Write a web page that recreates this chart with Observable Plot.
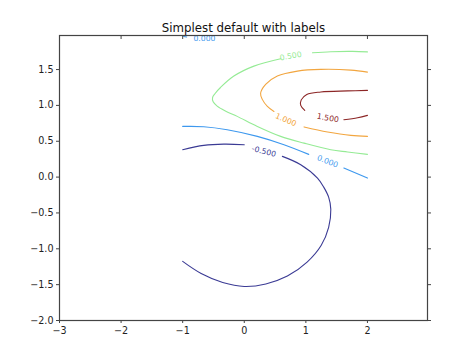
<!DOCTYPE html>
<html>
<head>
<meta charset="utf-8">
<script src="https://cdn.jsdelivr.net/npm/d3@7"></script>
<script src="https://cdn.jsdelivr.net/npm/@observablehq/plot@0.6"></script>
<style>
  html, body { margin: 0; padding: 0; background: #fff; }
  svg { display: block; }
</style>
</head>
<body>
<div id="chart"></div>
<script>
const titleText = "Simplest default with labels";
const xTicks = [-3, -2, -1, 0, 1, 2];
const yTicks = [-2.0, -1.5, -1.0, -0.5, 0.0, 0.5, 1.0, 1.5];
const levels = [-0.5, 0.0, 0.5, 1.0, 1.5];
const levelColors = ["#3a3a94", "#3d98ee", "#95eb95", "#f2a640", "#8c2626"];

// contour level -0.5 (two pieces separated by the label)
const cM05a = [[-1.0,0.382],[-0.658,0.442],[-0.332,0.460],[0.0,0.452]];
const cM05b = [[0.619,0.289],[0.917,0.173],[1.189,-0.014],[1.290,-0.140],[1.370,-0.280],[1.405,-0.450],[1.370,-0.700],[1.250,-0.950],[1.020,-1.185],[0.700,-1.380],[0.350,-1.490],[0.0,-1.525],[-0.350,-1.470],[-0.700,-1.345],[-1.0,-1.176]];
// contour level 0.0
const c0a = [[-1.0,0.707],[-0.658,0.703],[-0.277,0.661],[0.212,0.568],[0.645,0.452],[1.047,0.317]];
const c0b = [[1.617,0.126],[2.0,-0.014]];
const c0c = [[-0.985,1.962],[-0.935,1.955]];
// contour level 0.5
const c05a = [[2.0,1.746],[1.759,1.753],[1.405,1.749],[1.107,1.735]];
const c05b = [[0.591,1.651],[0.156,1.548],[-0.169,1.409],[-0.386,1.250],[-0.470,1.170],[-0.515,1.110],[-0.505,1.050],[-0.440,0.990],[-0.300,0.920],[-0.114,0.847],[0.212,0.707],[0.591,0.568],[0.971,0.474],[1.405,0.382],[1.678,0.351],[2.0,0.317]];
// contour level 1.0
const c10a = [[2.0,1.464],[1.731,1.492],[1.243,1.502],[0.863,1.478],[0.537,1.409],[0.347,1.293],[0.265,1.167],[0.293,1.084],[0.375,0.986],[0.482,0.916]];
const c10b = [[0.971,0.700],[1.352,0.630],[1.731,0.582],[2.0,0.568]];
// contour level 1.5
const c15a = [[2.0,1.209],[1.678,1.202],[1.243,1.188],[1.015,1.153],[0.925,1.077],[0.917,1.0],[0.982,0.930]];
const c15b = [[1.617,0.801],[1.840,0.828],[2.0,0.861]];

// inline labels: level, position, rotation
const labelLevels = [-0.5, 0.0, 0.0, 0.5, 1.0, 1.5];
const labelX = [0.319, 1.352, -0.647, 0.754, 0.673, 1.357];
const labelY = [0.358, 0.219, 1.935, 1.688, 0.798, 0.823];
const labelRot = [14, 21, 0, -10, 23, 10];

const segments = [
  [-0.5, cM05a], [-0.5, cM05b],
  [0.0, c0a], [0.0, c0b], [0.0, c0c],
  [0.5, c05a], [0.5, c05b],
  [1.0, c10a], [1.0, c10b],
  [1.5, c15a], [1.5, c15b]
];
const lineData = segments.flatMap(([level, pts], i) =>
  pts.map(([x, y]) => ({seg: i, level, x, y})));
const labelData = labelLevels.map((level, i) => ({
  level, x: labelX[i], y: labelY[i], rotate: labelRot[i], text: level.toFixed(3)
}));

const font = "DejaVu Sans, sans-serif";
const plot = Plot.plot({
  width: 474,
  height: 355,
  marginLeft: 59,
  marginRight: 47,
  marginTop: 35,
  marginBottom: 35,
  style: {fontFamily: font, background: "#fff", color: "#222"},
  x: {domain: [-3, 2.975], label: null},
  y: {domain: [-2, 1.975], label: null},
  color: {domain: levels, range: levelColors},
  marks: [
    Plot.line(lineData, {x: "x", y: "y", z: "seg", stroke: "level", strokeWidth: 1.1, curve: "catmull-rom", clip: true}),
    Plot.text(labelData, {x: "x", y: "y", text: "text", rotate: "rotate", fill: "level", fontSize: 7.7, clip: true}),
    Plot.axisX({ticks: xTicks, tickSize: 3, tickPadding: 4, fontSize: 9.6, stroke: "#444", tickFormat: d => d3.format("d")(d)}),
    Plot.axisX({ticks: xTicks, anchor: "top", tickSize: -3, tickFormat: () => "", stroke: "#444"}),
    Plot.axisY({ticks: yTicks, tickSize: 3, tickPadding: 3, fontSize: 9.6, stroke: "#444", tickFormat: d3.format(".1f")}),
    Plot.axisY({ticks: yTicks, anchor: "right", tickSize: 3, tickFormat: () => "", stroke: "#444"}),
    Plot.frame({stroke: "#444", strokeWidth: 1.2}),
    Plot.text([titleText], {frameAnchor: "top", text: d => d, lineAnchor: "bottom", dy: -4, fontSize: 11.8, fill: "#111"})
  ]
});
document.getElementById("chart").appendChild(plot);
</script>
</body>
</html>
